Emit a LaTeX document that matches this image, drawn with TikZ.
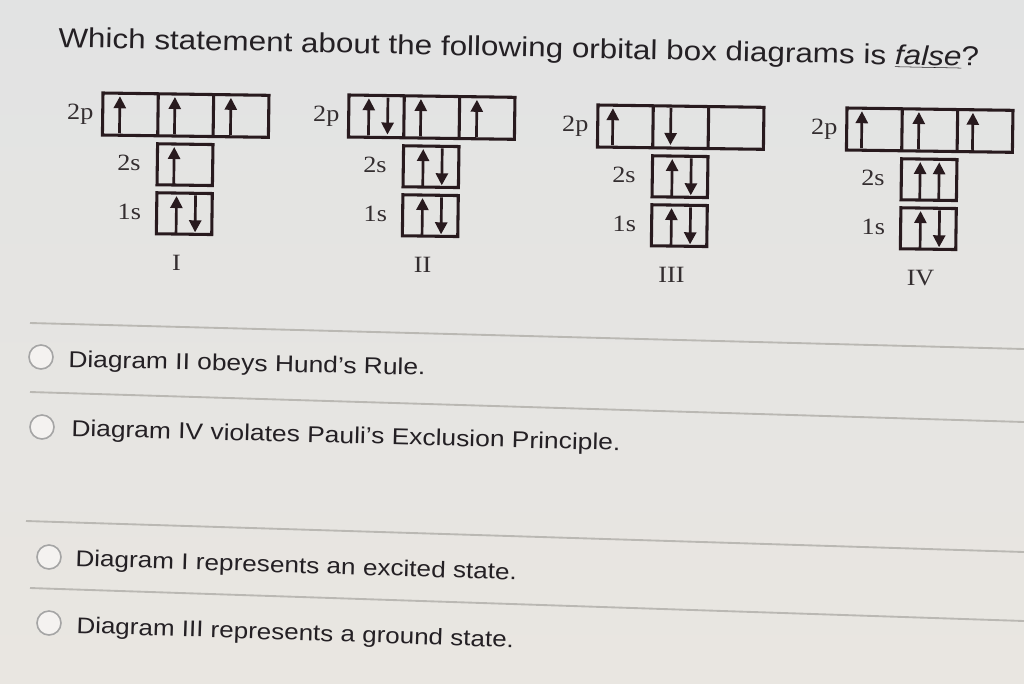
\documentclass[tikz,border=0pt]{standalone}
\usepackage{fontspec}
\setmainfont{Liberation Serif}
\newfontfamily\qsans[FakeStretch=1.15]{Liberation Sans}
\newfontfamily\qserif[FakeStretch=1.12]{Liberation Serif}
\usetikzlibrary{arrows.meta}
\definecolor{bgtop}{RGB}{226,227,227}
\definecolor{bgbot}{RGB}{233,230,225}
\definecolor{ink}{RGB}{40,26,30}
\definecolor{txt}{RGB}{36,32,36}
\definecolor{lbl}{RGB}{52,46,48}
\definecolor{sepc}{RGB}{186,184,179}
\definecolor{radio}{RGB}{165,165,165}
\tikzset{
  obox/.style={draw=ink, line width=2.3pt},
  spin/.style={draw=ink, line width=2pt, -{Triangle[length=9pt,width=9pt]}},
  lvl/.style={font=\qserif\fontsize{17.5}{17.5}\selectfont, text=lbl, inner sep=0pt, anchor=base east},
  numeral/.style={font=\qserif\fontsize{17.5}{17.5}\selectfont, text=lbl, inner sep=0pt, anchor=base},
  sepline/.style={draw=sepc, line width=1.4pt},
  radiob/.style={draw=radio, line width=1.2pt, fill=bgbot!50!white, circle, minimum size=18pt, inner sep=0pt},
  answer/.style={text=txt, inner sep=0pt, anchor=base west},
  question/.style={font=\qsans\fontsize{20.5}{24}\selectfont, text=txt, inner sep=0pt, anchor=base west},
}
\newcommand\su[2]{\draw[spin] (#1,#2+40) -- (#1,#2+3);}
\newcommand\sd[2]{\draw[spin] (#1,#2+2) -- (#1,#2+39);}
\newcommand\orbframe[2]{%
  \draw[obox] (0,0) rectangle (166,42);
  \draw[obox] (55.3,0) -- (55.3,42) (110.7,0) -- (110.7,42);
  \draw[obox] (55.3,50) rectangle (110.7,91);
  \draw[obox] (55.3,99) rectangle (110.7,140);
  \node[lvl] (#1p) at (-9,27) {2p};
  \node[lvl] (#1ss) at (39,77) {2s};
  \node[lvl] (#1s) at (40,126) {1s};
  \node[numeral] (#1n) at (76,176) {#2};
}
\begin{document}
\begin{tikzpicture}[x=0.75pt,y=-0.75pt]
\useasboundingbox (0,0) rectangle (1024,683);
\shade[top color=bgtop, bottom color=bgbot] (0,0) rectangle (1024,683);

% question
\node[question, rotate=-1.2] (title) at (58,47)
  {Which statement about the following orbital box diagrams is \underline{\itshape false}?};

% diagram I
\begin{scope}[shift={(103,93)}, rotate=-0.8]
  \orbframe{dI}{I}
  \su{17}{0} \su{72}{0} \su{128}{0}
  \su{72}{50}
  \su{75}{99} \sd{94}{99}
\end{scope}

% diagram II
\begin{scope}[shift={(349,95)}, rotate=-0.8]
  \orbframe{dII}{II}
  \su{20}{0} \sd{39}{0} \su{72}{0} \su{128}{0}
  \su{75}{50} \sd{94}{50}
  \su{75}{99} \sd{94}{99}
\end{scope}

% diagram III
\begin{scope}[shift={(598,105)}, rotate=-0.8]
  \orbframe{dIII}{III}
  \su{15}{0} \sd{73}{0}
  \su{75}{50} \sd{94}{50}
  \su{75}{99} \sd{94}{99}
\end{scope}

% diagram IV
\begin{scope}[shift={(847,108)}, rotate=-0.8]
  \orbframe{dIV}{IV}
  \su{15}{0} \su{72}{0} \su{126}{0}
  \su{74}{50} \su{93}{50}
  \su{75}{99} \sd{94}{99}
\end{scope}

% separators
\coordinate (s1a) at (30,323);  \coordinate (s1b) at (1024,349);
\coordinate (s2a) at (30,392);  \coordinate (s2b) at (1024,422);
\coordinate (s3a) at (26,521);  \coordinate (s3b) at (1024,552);
\coordinate (s4a) at (30,588);  \coordinate (s4b) at (1024,621);
\draw[sepline] (s1a) -- (s1b);
\draw[sepline] (s2a) -- (s2b);
\draw[sepline] (s3a) -- (s3b);
\draw[sepline] (s4a) -- (s4b);

% answers
\node[radiob] (r1) at (41,357) {};
\node[answer, rotate=-1.3, font=\qsans\fontsize{17.2}{20}\selectfont] (a1) at (68,367) {Diagram II obeys Hund’s Rule.};
\node[radiob] (r2) at (42,427) {};
\node[answer, rotate=-1.5, font=\qsans\fontsize{17.2}{20}\selectfont] (a2) at (71,436) {Diagram IV violates Pauli’s Exclusion Principle.};
\node[radiob] (r3) at (49,557) {};
\node[answer, rotate=-1.8, font=\qsans\fontsize{17.05}{20}\selectfont] (a3) at (75,566) {Diagram I represents an excited state.};
\node[radiob] (r4) at (49,623) {};
\node[answer, rotate=-1.9, font=\qsans\fontsize{16.95}{20}\selectfont] (a4) at (76,633) {Diagram III represents a ground state.};
\end{tikzpicture}
\end{document}
